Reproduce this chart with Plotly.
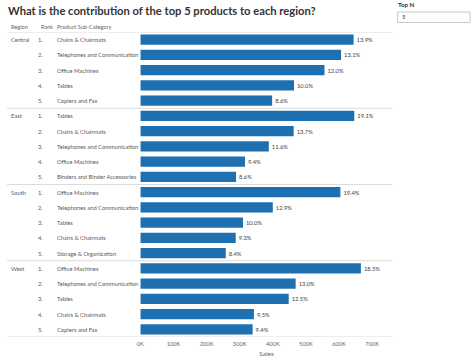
import plotly.graph_objects as go

regions = ["Central", "East", "South", "West"]
ranks = ["1.", "2.", "3.", "4.", "5."]
subcats = [
    ["Chairs & Chairmats", "Telephones and Communication", "Office Machines", "Tables", "Copiers and Fax"],
    ["Tables", "Chairs & Chairmats", "Telephones and Communication", "Office Machines", "Binders and Binder Accessories"],
    ["Office Machines", "Telephones and Communication", "Tables", "Chairs & Chairmats", "Storage & Organization"],
    ["Office Machines", "Telephones and Communication", "Tables", "Chairs & Chairmats", "Copiers and Fax"],
]
sales = [
    [644000, 606000, 556000, 464000, 398000],
    [646000, 463000, 388000, 316000, 289000],
    [604000, 400000, 310000, 288000, 258000],
    [666000, 469000, 448000, 343000, 339000],
]
pct = [
    [13.9, 13.1, 12.0, 10.0, 8.6],
    [19.1, 13.7, 11.6, 9.4, 8.6],
    [19.4, 12.9, 10.0, 9.3, 8.4],
    [18.5, 13.0, 12.5, 9.5, 9.4],
]
tick_vals = [0, 100000, 200000, 300000, 400000, 500000, 600000, 700000]
tick_text = ["0K", "100K", "200K", "300K", "400K", "500K", "600K", "700K"]

W, H = 474, 361
FONT = "Lato, 'Open Sans', sans-serif"
BLUE = "#1F70B0"

rows, xs, labels = [], [], []
for ri, reg in enumerate(regions):
    for k in range(5):
        rows.append(f"{reg}|{k+1}")
        xs.append(sales[ri][k])
        labels.append(f"{pct[ri][k]:.1f}%")

fig = go.Figure(go.Bar(
    x=xs, y=rows, orientation="h",
    marker=dict(color=BLUE, line=dict(width=0)),
    text=labels, textposition="outside", cliponaxis=False,
    textfont=dict(family=FONT, size=5.8, color="#444"),
    width=0.66,
))

annotations = []
def px(x):
    return x / W

LBL = dict(family=FONT, size=5.8, color="#5a5a5a")
for ri, reg in enumerate(regions):
    annotations.append(dict(x=px(5), y=f"{reg}|1", xref="paper", yref="y", text=reg,
                            showarrow=False, xanchor="left", yanchor="middle", font=LBL))
    for k in range(5):
        cat = f"{reg}|{k+1}"
        annotations.append(dict(x=px(41.5), y=cat, xref="paper", yref="y", text=ranks[k],
                                showarrow=False, xanchor="right", yanchor="middle", font=LBL))
        annotations.append(dict(x=px(51), y=cat, xref="paper", yref="y", text=subcats[ri][k],
                                showarrow=False, xanchor="left", yanchor="middle", font=LBL))

top_px, bot_px = 32, 337
def py(y):
    return (bot_px - y) / (bot_px - top_px)

for txt, xx in [("Region", 5), ("Rank", 35), ("Product Sub-Category", 51)]:
    annotations.append(dict(x=px(xx), y=py(27), xref="paper", yref="paper", text=txt,
                            showarrow=False, xanchor="left", yanchor="middle",
                            font=dict(family=FONT, size=5.6, color="#666")))
annotations.append(dict(x=px(2), y=py(11), xref="paper", yref="paper",
                        text="<b>What is the contribution of the top 5 products to each region?</b>",
                        showarrow=False, xanchor="left", yanchor="middle",
                        font=dict(family=FONT, size=11.2, color="#333")))
annotations.append(dict(x=px(395), y=py(5), xref="paper", yref="paper", text="<b>Top N</b>",
                        showarrow=False, xanchor="left", yanchor="middle",
                        font=dict(family=FONT, size=6.2, color="#333")))
annotations.append(dict(x=px(399), y=py(17), xref="paper", yref="paper", text="5",
                        showarrow=False, xanchor="left", yanchor="middle",
                        font=dict(family=FONT, size=6, color="#333")))

shapes = []
for b in [-0.5, 4.5, 9.5, 14.5, 19.5]:
    shapes.append(dict(type="line", xref="paper", yref="y", x0=px(3), x1=px(392), y0=b, y1=b,
                       line=dict(color="#dcdcdc", width=1)))
shapes.append(dict(type="rect", xref="paper", yref="paper", x0=px(397), x1=px(470),
                   y0=py(22.5), y1=py(12), line=dict(color="#c8c8c8", width=1), fillcolor="white"))

fig.update_layout(
    width=W, height=H,
    margin=dict(l=0, r=0, t=top_px, b=H - bot_px),
    paper_bgcolor="white", plot_bgcolor="white",
    showlegend=False,
    annotations=annotations, shapes=shapes,
    xaxis=dict(domain=[px(137.5), px(392)], range=[0, 762000],
               tickvals=tick_vals, ticktext=tick_text, showgrid=False, zeroline=False,
               showline=False, ticks="", ticklabelstandoff=2,
               tickfont=dict(family=FONT, size=5.7, color="#666"),
               title=dict(text="Sales", font=dict(family=FONT, size=6.5, color="#666"), standoff=5)),
    yaxis=dict(categoryorder="array", categoryarray=rows, range=[19.5, -0.5],
               showticklabels=False, showgrid=False, zeroline=False, ticks=""),
)

fig.write_html("out.html", config={"displayModeBar": False},
               post_script="document.body.style.margin='0';document.body.style.padding='0';")
